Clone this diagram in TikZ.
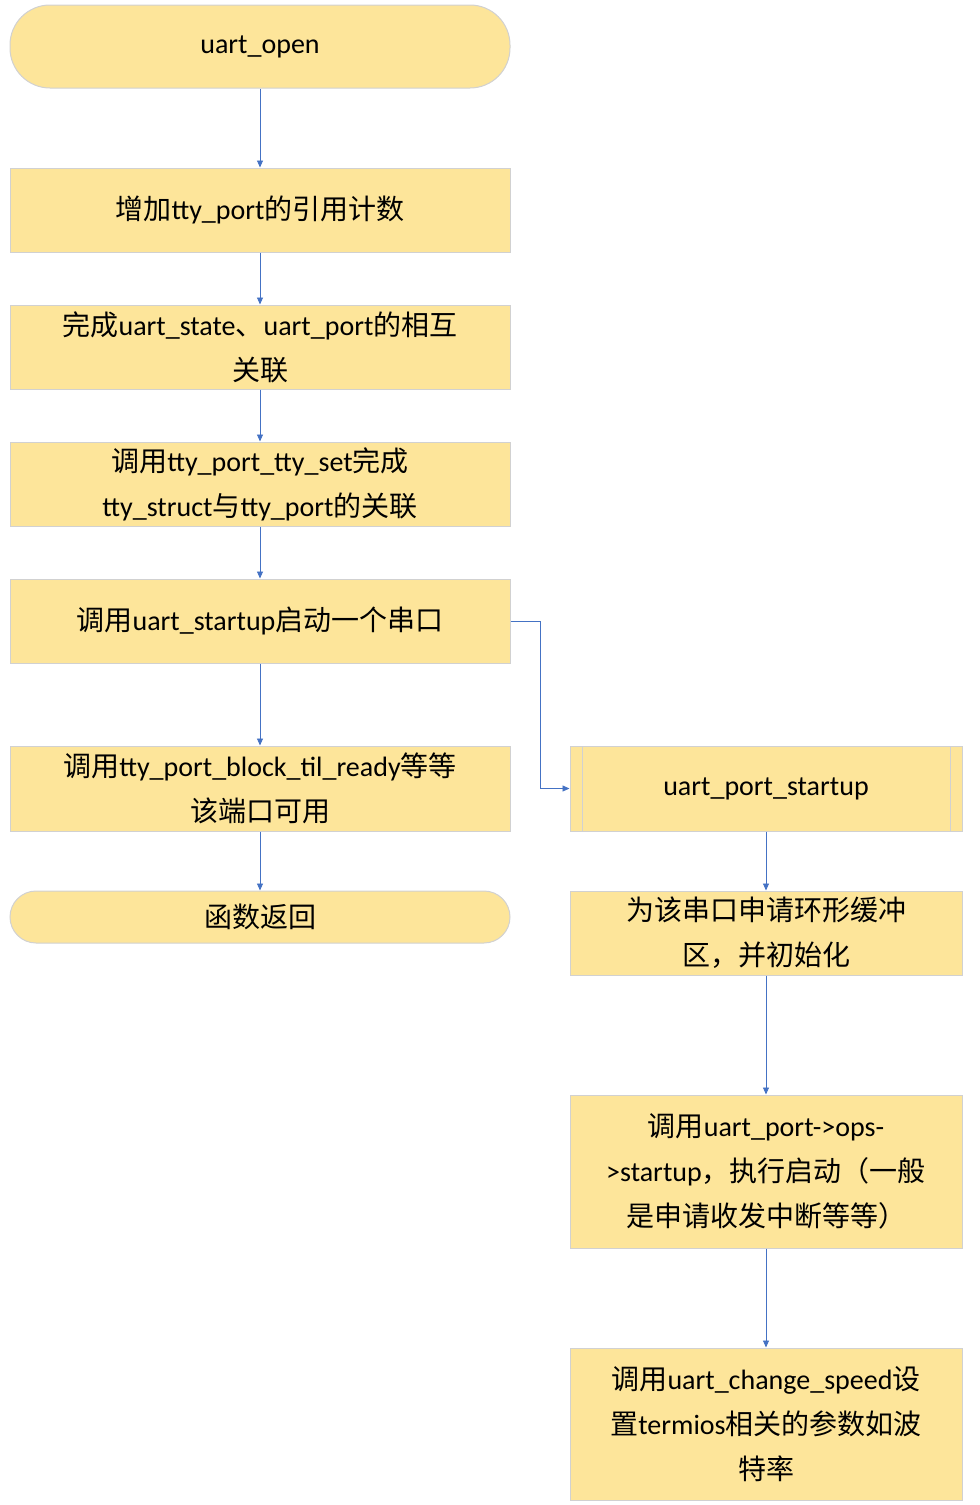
\documentclass[tikz,border=0pt]{standalone}
\usepackage{fontspec}
\setmainfont{Carlito}
\newfontfamily\cjk{Noto Sans CJK SC}
\usetikzlibrary{arrows.meta}
\newcommand{\C}[1]{{\cjk #1}}
\begin{document}
\begin{tikzpicture}[x=1pt,y=-1pt,
  box/.style={draw=black!18,fill=yellowfill,line width=1pt,minimum width=500pt,inner sep=0pt,align=center,font=\fontsize{28}{45}\selectfont},
  rbox/.style={box,minimum width=392pt},
  stad/.style={box,rounded corners=40pt},
  arr/.style={draw=arrowblue,line width=0.9pt,-{Triangle[length=7pt,width=6pt]}}]
\definecolor{yellowfill}{HTML}{FDE59A}
\definecolor{arrowblue}{HTML}{4472C4}
\useasboundingbox (0,0) rectangle (980,1505);
\node[stad,minimum height=83pt] (a) at (260,46.5) {uart\_open};
\node[box,minimum height=84pt] (b) at (260,210) {\C{增加}tty\_port\C{的引用计数}};
\node[box,minimum height=84pt] (c) at (260,347) {\C{完成}uart\_state\C{、}uart\_port\C{的相互}\\\C{关联}};
\node[box,minimum height=84pt] (d) at (260,484) {\C{调用}tty\_port\_tty\_set\C{完成}\\tty\_struct\C{与}tty\_port\C{的关联}};
\node[box,minimum height=84pt] (e) at (260,621) {\C{调用}uart\_startup\C{启动一个串口}};
\node[box,minimum height=85pt] (f) at (260,788.5) {\C{调用}tty\_port\_block\_til\_ready\C{等等}\\\C{该端口可用}};
\node[stad,minimum height=52pt,rounded corners=26pt] (g) at (260,917) {\C{函数返回}};
\node[rbox,minimum height=85pt] (h) at (766,788.5) {uart\_port\_startup};
\draw[draw=black!18,line width=1pt] (582,746) -- (582,831) (950,746) -- (950,831);
\node[rbox,minimum height=84pt] (i) at (766,933) {\C{为该串口申请环形缓冲}\\\C{区，并初始化}};
\node[rbox,minimum height=153pt] (j) at (766,1171.5) {\C{调用}uart\_port->ops-\\>startup\C{，执行启动（一般}\\\C{是申请收发中断等等）}};
\node[rbox,minimum height=152pt] (k) at (766,1424) {\C{调用}uart\_change\_speed\C{设}\\\C{置}termios\C{相关的参数如波}\\\C{特率}};
\draw[arr] (a) -- (b);
\draw[arr] (b) -- (c);
\draw[arr] (c) -- (d);
\draw[arr] (d) -- (e);
\draw[arr] (e) -- (f);
\draw[arr] (f) -- (g);
\draw[arr] (e.east) -- ++(30,0) |- (h.west);
\draw[arr] (h) -- (i);
\draw[arr] (i) -- (j);
\draw[arr] (j) -- (k);
\end{tikzpicture}
\end{document}
